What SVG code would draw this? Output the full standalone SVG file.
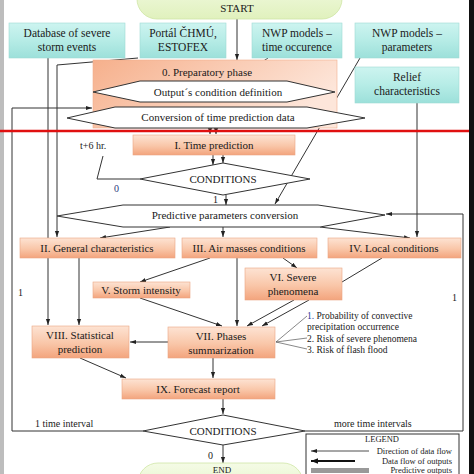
<svg xmlns="http://www.w3.org/2000/svg" width="474" height="474" viewBox="0 0 474 474">
<defs>
<linearGradient id="gTeal" x1="0" y1="0" x2="0" y2="1"><stop offset="0" stop-color="#cdf4f0"/><stop offset="0.5" stop-color="#b6ece6"/><stop offset="1" stop-color="#9ce0da"/></linearGradient>
<linearGradient id="gOr" x1="0" y1="0" x2="0" y2="1"><stop offset="0" stop-color="#fde3d3"/><stop offset="0.55" stop-color="#f9c6a8"/><stop offset="1" stop-color="#f3a47d"/></linearGradient>
<linearGradient id="gPrep" x1="0" y1="0" x2="1" y2="0.4"><stop offset="0" stop-color="#f6b08c"/><stop offset="1" stop-color="#fde6da"/></linearGradient>
<linearGradient id="gGreen" x1="0" y1="0" x2="0" y2="1"><stop offset="0" stop-color="#f4fbe6"/><stop offset="1" stop-color="#e0f1bd"/></linearGradient>
<marker id="ah" viewBox="0 0 10 10" refX="10" refY="5" markerWidth="6" markerHeight="6" orient="auto" markerUnits="userSpaceOnUse"><path d="M0,1.5 L10,5 L0,8.5 z" fill="#222"/></marker>
<marker id="ahb" viewBox="0 0 10 10" refX="10" refY="5" markerWidth="7" markerHeight="7" orient="auto" markerUnits="userSpaceOnUse"><path d="M0,1 L10,5 L0,9 z" fill="#111"/></marker>
<style>
text{font-family:"Liberation Serif","Times New Roman",serif;fill:#1a1a1a;}
.t{font-size:11.5px;text-anchor:middle;}
.o{font-size:11px;text-anchor:middle;}
.s{font-size:10px;}
.lg{font-size:8.5px;}
.teal{fill:url(#gTeal);stroke:#9fd9d4;stroke-width:0.6;}
.or{fill:url(#gOr);stroke:#eaa682;stroke-width:0.6;}
.shape{fill:#fff;stroke:#333;stroke-width:1;}
.c{fill:none;stroke:#333;stroke-width:1;}
.ca{fill:none;stroke:#333;stroke-width:1;marker-end:url(#ah);}
.thin{fill:none;stroke:#555;stroke-width:0.7;}
</style>
</defs>
<rect x="0" y="0" width="474" height="474" fill="#fff"/>
<rect x="0" y="0" width="4" height="474" fill="#bdbdbd"/>
<rect x="469" y="0" width="5" height="474" fill="#111"/>

<g id="connectors">
<path class="ca" d="M237,19 V60"/>
<path class="ca" d="M138,58 L57,65 V237"/>
<path class="ca" d="M48,58 V325"/>
<path class="c" d="M268,58 L262,62"/>
<path class="ca" d="M360,58 L275,204"/>
<path class="ca" d="M417,103 V237"/>
<path class="ca" d="M213,102 V108"/>
<path class="ca" d="M210,128 V134"/>
<path class="ca" d="M216,128 V134"/>
<path class="ca" d="M213,155 V165"/>
<path class="ca" d="M223,155 V163"/>
<path class="ca" d="M226,195 V205"/>
<path class="c" d="M140,179 H97 L103,156"/>
<path class="ca" d="M143,431 H12 V108 H92"/>
<path class="ca" d="M305,431 H463 V214 H386"/>
<path class="ca" d="M170,227 L100,238"/>
<path class="ca" d="M223,227 V237"/>
<path class="ca" d="M320,227 L410,238"/>
<path class="ca" d="M79,258 V325"/>
<path class="ca" d="M210,258 L140,282"/>
<path class="ca" d="M283,258 L297,268"/>
<path class="ca" d="M237,258 V326"/>
<path class="c" d="M382,258 L342,282"/>
<path class="ca" d="M140,298 L222,326"/>
<path class="ca" d="M294,300 L247,326"/>
<path class="ca" d="M309,300 L262,326"/>
<path class="ca" d="M168,342 H130"/>
<path class="ca" d="M80,358 L126,378"/>
<path class="ca" d="M213,358 V378"/>
<path class="ca" d="M223,399 V414"/>
<path class="ca" d="M223,445 V463"/>
<path class="thin" d="M307,316 L276,342 L307,338 M276,342 L307,349"/>
</g>

<g id="start"><rect x="137" y="-22" width="205" height="41" rx="20" fill="url(#gGreen)" stroke="#cfe6a6" stroke-width="0.8"/><text class="o" x="237" y="12">START</text></g>

<g id="database"><rect class="teal" x="9" y="23" width="116" height="35"/><text class="t" x="67" y="37">Database of severe</text><text class="t" x="67" y="51">storm events</text></g>
<g id="portal"><rect class="teal" x="140" y="23" width="86" height="35"/><text class="t" x="183" y="37">Portál ČHMÚ,</text><text class="t" x="183" y="51">ESTOFEX</text></g>
<g id="nwp-time"><rect class="teal" x="252" y="23" width="90" height="35"/><text class="t" x="297" y="37">NWP models –</text><text class="t" x="297" y="51">time occurence</text></g>
<g id="nwp-param"><rect class="teal" x="355" y="23" width="104" height="35"/><text class="t" x="407" y="37">NWP models –</text><text class="t" x="407" y="51">parameters</text></g>
<g id="relief"><rect class="teal" x="355" y="67" width="104" height="36"/><text class="t" x="407" y="81">Relief</text><text class="t" x="407" y="95">characteristics</text></g>

<g id="preparatory"><rect x="93" y="60" width="244" height="68" fill="url(#gPrep)" stroke="#f0b08e" stroke-width="0.6"/><text class="o" x="207" y="76">0. Preparatory phase</text></g>
<g id="output-def"><polygon class="shape" points="93,92 140,81 287,81 335,92 287,102 140,102"/><text class="o" x="218" y="96">Output´s condition definition</text></g>
<g id="conversion"><polygon class="shape" points="67,118 115,107 307,107 365,118 307,128 115,128"/><text class="o" x="218" y="121">Conversion of time prediction data</text></g>

<g id="time-pred"><rect class="or" x="133" y="135" width="162" height="20"/><text class="o" x="214" y="149">I. Time prediction</text></g>
<text class="s" x="80" y="149">t+6 hr.</text>
<g id="cond1"><polygon class="shape" points="140,179 223,163 310,179 223,195"/><text class="o" x="223" y="183">CONDITIONS</text></g>
<text class="s" x="114" y="192" style="fill:#2a3a7a">0</text>
<text class="s" x="213" y="203">1</text>

<g id="predictive"><polygon class="shape" points="57,216 123,205 318,205 385,215 320,227 123,227"/><text class="o" x="225" y="219">Predictive parameters conversion</text></g>

<g id="general"><rect class="or" x="20" y="238" width="155" height="20"/><text class="o" x="97" y="252">II. General characteristics</text></g>
<g id="airmass"><rect class="or" x="182" y="238" width="135" height="20"/><text class="o" x="249" y="252">III. Air masses conditions</text></g>
<g id="local"><rect class="or" x="328" y="238" width="133" height="20"/><text class="o" x="394" y="252">IV. Local conditions</text></g>

<g id="storm"><rect class="or" x="93" y="282" width="97" height="16"/><text class="o" x="141" y="294">V. Storm intensity</text></g>
<g id="severe"><rect class="or" x="245" y="268" width="97" height="32"/><text class="o" x="293" y="281">VI. Severe</text><text class="o" x="293" y="295">phenomena</text></g>

<g id="statistical"><rect class="or" x="32" y="326" width="97" height="32"/><text class="o" x="80" y="339">VIII. Statistical</text><text class="o" x="80" y="353">prediction</text></g>
<g id="phases"><rect class="or" x="168" y="327" width="107" height="31"/><text class="o" x="221" y="340">VII. Phases</text><text class="o" x="221" y="354">summarization</text></g>

<g id="outputs">
<text x="307" y="319" style="font-size:9.5px"><tspan style="fill:#2a3a9a">1.</tspan> Probability of convective</text>
<text x="307" y="330" style="font-size:9.5px">precipitation occurrence</text>
<text x="307" y="342" style="font-size:9.5px">2. Risk of severe phenomena</text>
<text x="307" y="353" style="font-size:9.5px">3. Risk of flash flood</text>
</g>
<text class="s" x="18" y="296">1</text>
<text class="s" x="452" y="301">1</text>

<g id="forecast"><rect class="or" x="122" y="379" width="153" height="20"/><text class="o" x="198" y="393">IX. Forecast report</text></g>
<g id="cond2"><polygon class="shape" points="143,431 223,415 305,431 223,445"/><text class="o" x="223" y="435">CONDITIONS</text></g>
<text class="s" x="35" y="427">1 time interval</text>
<text class="s" x="334" y="427">more time intervals</text>
<text class="s" x="208" y="459">0</text>

<g id="end"><rect x="138" y="463" width="165" height="40" rx="20" fill="url(#gGreen)" stroke="#cfe6a6" stroke-width="0.8"/><text x="222" y="472.5" style="font-size:9px;text-anchor:middle">END</text></g>

<g id="legend">
<rect x="306" y="434" width="153" height="50" fill="#fff" stroke="#333" stroke-width="1"/>
<text class="lg" x="382" y="442" text-anchor="middle">LEGEND</text>
<path d="M369,451 H311" fill="none" stroke="#222" stroke-width="0.8" marker-end="url(#ah)"/>
<text class="lg" x="452" y="454" text-anchor="end">Direction of data flow</text>
<path d="M355,461 H311" fill="none" stroke="#111" stroke-width="2" marker-end="url(#ahb)"/>
<text class="lg" x="452" y="464" text-anchor="end">Data flow of outputs</text>
<rect x="311" y="468" width="58" height="5" fill="#999"/>
<text class="lg" x="452" y="472.5" text-anchor="end">Predictive outputs</text>
</g>

<line x1="0" y1="131" x2="469" y2="131" stroke="#e01010" stroke-width="2.5"/>
</svg>
